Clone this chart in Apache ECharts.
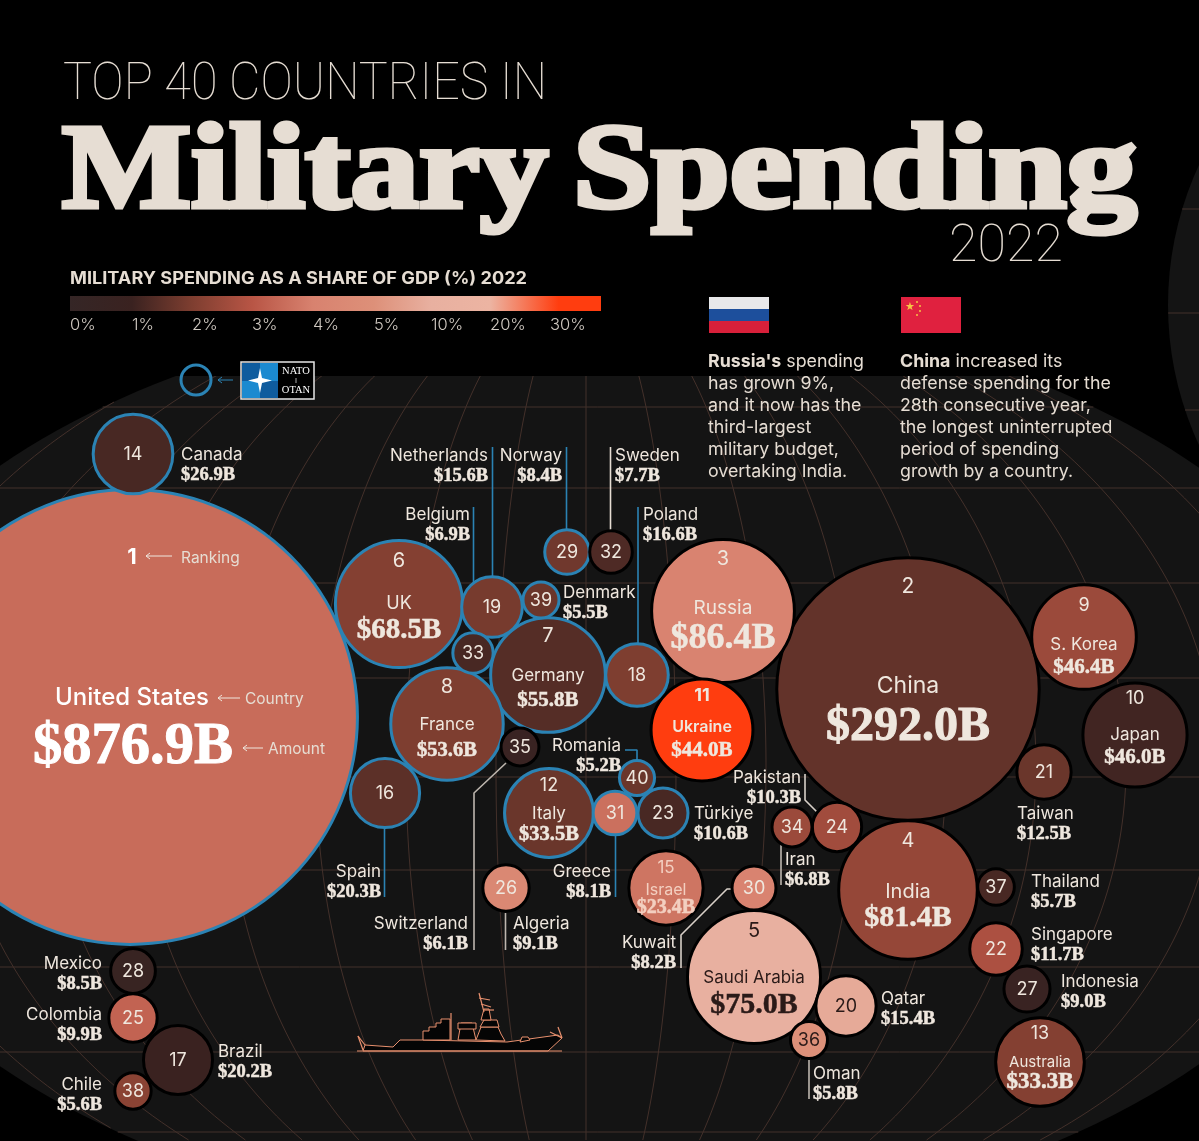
<!DOCTYPE html>
<html><head><meta charset="utf-8">
<style>html,body{margin:0;padding:0;background:#000}#c{width:1199px;height:1141px}</style>
<script src="https://cdn.jsdelivr.net/npm/echarts@6/dist/echarts.min.js"></script>
</head><body><div id="c"></div>
<script>
// ---------- data (rank = position + 1) ----------
const countries = ['United States','China','Russia','India','Saudi Arabia','UK','Germany','France','S. Korea','Japan','Ukraine','Italy','Australia','Canada','Israel','Spain','Brazil','Poland','Netherlands','Qatar','Taiwan','Singapore','Türkiye','Pakistan','Colombia','Algeria','Indonesia','Mexico','Norway','Kuwait','Greece','Sweden','Belgium','Iran','Switzerland','Oman','Thailand','Chile','Denmark','Romania'];
const spendB = [876.9,292.0,86.4,81.4,75.0,68.5,55.8,53.6,46.4,46.0,44.0,33.5,33.3,26.9,23.4,20.3,20.2,16.6,15.6,15.4,12.5,11.7,10.6,10.3,9.9,9.1,9.0,8.5,8.4,8.2,8.1,7.7,6.9,6.8,6.1,5.8,5.7,5.6,5.5,5.2];
const gdpShare = [3.5,1.6,4.1,2.4,10,2.1,1.4,2,2.5,1.1,33.5,1.7,2.1,1.2,3.7,1.5,1,2,1.9,9,1.7,2.8,1.2,2.6,3.3,4.4,0.7,0.6,1.8,4.1,3.6,1.3,1.2,2.5,0.7,5,1.2,2.2,1.7,1.7];
const natoMembers = ['United States','UK','Germany','France','Italy','Canada','Spain','Poland','Netherlands','Türkiye','Norway','Greece','Belgium','Denmark','Romania'];
const scaleTicks = [0,1,2,3,4,5,10,20,30];
const scaleLabels = ['0%','1%','2%','3%','4%','5%','10%','20%','30%'];
// ---------- layout & style ----------
const bubbleX = [130,908,723,908,754,399,548,447,1084,1135,702,549,1040,133,666,385,178,637,492,846,1044,996,663,837,133,506,1027,133,567,754,615,611,473,792,520,809,996,133,541,637];
const bubbleY = [717,689,611,890,977,604,675,724,637,735,730,813,1062,454,888,793,1060,675,607,1006,772,949,813,827,1018,888,989,971,552,888,813,552,653,827,747,1040,887,1091,600,778];
const radiusPerSqrtB = 7.68;
const scaleColors = ['#352626','#3a2220','#7e3e30','#b85545','#d8826f','#dd9079','#e8b0a0','#ecb4a2','#ff3d0f'];
const scaleLabelX = [70,132,192,252,313,374,431,490,550];
const cream='#efe7de', blue='#2b83b4', sans='Inter, "Noto Sans", sans-serif', serif='"Liberation Serif", serif';
// inside: name -> [rankDy,nameDy,amtDy,rankSize,nameSize,amtSize]
const insideLabels = {
 'China':[-103,-4,38,21,23,48],'Russia':[-53,-4,27,20,19,36],'India':[-50,1,27,20,20,30],'Saudi Arabia':[-47,0,27,20,17,30],
 'UK':[-44,-1,26,20,18,29],'Germany':[-40,0,25,20,17,21],'France':[-38,0,26,20,17,20.5],'S. Korea':[-32,7,30,18,17,21],
 'Japan':[-37,-1,22,18,17,21],'Ukraine':[-35,-4,20,18,16,21],'Italy':[-28,0,21,18,17,20.5],'Australia':[-29,-1,19,18,15,23],'Israel':[-21,1,19,17,16,20]};
// outside: name -> [x,y,align]
const outsideLabels = {
 'Canada':[181,454,'left'],'Netherlands':[488,455,'right'],'Norway':[562,455,'right'],'Sweden':[615,455,'left'],'Belgium':[470,514,'right'],'Poland':[643,514,'left'],
 'Denmark':[563,592,'left'],'Spain':[381,871,'right'],'Switzerland':[468,923,'right'],'Algeria':[513,923,'left'],'Greece':[611,871,'right'],'Romania':[621,745,'right'],
 'Türkiye':[694,813,'left'],'Kuwait':[676,942,'right'],'Pakistan':[801,777,'right'],'Iran':[785,859,'left'],'Oman':[813,1073,'left'],'Taiwan':[1017,813,'left'],
 'Thailand':[1031,881,'left'],'Singapore':[1031,934,'left'],'Indonesia':[1061,981,'left'],'Qatar':[881,998,'left'],'Mexico':[102,963,'right'],'Colombia':[102,1014,'right'],
 'Chile':[102,1084,'right'],'Brazil':[218,1051,'left']};
const darkText = ['Saudi Arabia','Qatar','Oman'];
const leaders = [
 [[492.5,447],[492.5,580],blue],[[566.5,447],[566.5,532],blue],[[610.5,447],[610.5,533],'#e6ddd3'],[[473.5,507],[473.5,635],blue],[[638,507],[638,646],blue],
 [[384.5,826],[384.5,897],blue],[[506,763],[474,793],[474,950],'#bdb6ae'],[[505.5,913],[505.5,950],'#bdb6ae'],[[615.5,833],[615.5,897],blue],[[625,750],[637,750],[637,762],blue],
 [[733,889],[727,889],[681,935],[681,968],'#d8d0c8'],[[805,774],[805,800],[817,812],'#d8d0c8'],[[781,845],[781,885],'#bdb6ae'],[[809,1060],[809,1099],'#bdb6ae']];

function rgb(h){return [1,3,5].map(i=>parseInt(h.substr(i,2),16));}
function shareColor(s){
  let i=0; while(i<scaleTicks.length-2 && s>scaleTicks[i+1]) i++;
  const t=Math.min(1,(s-scaleTicks[i])/(scaleTicks[i+1]-scaleTicks[i]));
  const a=rgb(scaleColors[i]),b=rgb(scaleColors[i+1]);
  return 'rgb('+a.map((v,k)=>Math.round(v+(b[k]-v)*t)).join(',')+')';
}
const money=v=>'$'+v.toFixed(1)+'B';
function labelPt(x,y,text,size,opt){
  opt=opt||{};
  return {value:[x,y+1],label:{formatter:()=>text,fontSize:size,color:opt.color||cream,fontFamily:opt.serif?serif:sans,
    fontWeight:opt.serif?'bold':(opt.weight||'normal'),align:opt.align||'center',verticalAlign:'middle',
    textBorderColor:opt.serif?(opt.color||cream):'transparent',textBorderWidth:opt.serif?(size>40?1:0.5):0}};
}
const labelData=[];
countries.forEach((n,i)=>{
  const x=bubbleX[i],y=bubbleY[i],rank=String(i+1),col=darkText.includes(n)?'#2a1a18':cream;
  if(n==='United States'){
    labelData.push(labelPt(x+2,556,rank,22,{weight:'bold',color:'#fff'}));
    labelData.push(labelPt(x+2,697,n,24,{weight:'500',color:'#fff'}));
    labelData.push(labelPt(x+3,747,money(spendB[i]),58.5,{serif:true,color:'#fff'}));
    return;
  }
  const ins=insideLabels[n];
  if(ins){
    const c=n==='Israel'?'#f3cfc0':col;
    labelData.push(labelPt(x,y+ins[0],rank,ins[3],{color:c,weight:n==='Ukraine'?'bold':'normal'}));
    labelData.push(labelPt(x,y+ins[1],n,ins[4],{color:c,weight:n==='Ukraine'?'600':'normal'}));
    labelData.push(labelPt(x,y+ins[2],money(spendB[i]),ins[5],{serif:true,color:c}));
  } else {
    labelData.push(labelPt(x,y,rank,18,{color:col}));
    const o=outsideLabels[n];
    labelData.push(labelPt(o[0],o[1],n,17,{align:o[2]}));
    labelData.push(labelPt(o[0],o[1]+20,money(spendB[i]),18.5,{serif:true,align:o[2]}));
  }
});
// legend-style annotations
[[181,557,'Ranking'],[245,698,'Country'],[268,748,'Amount']].forEach(a=>labelData.push(labelPt(a[0],a[1],a[2],15.5,{align:'left',color:'#e6ddd3'})));

// ---------- background graphics ----------
const g=[];
const ecx=598,ecy=766,ea=787,eb=462, lineCol='#43302a';
g.push({type:'ellipse',shape:{cx:ecx,cy:ecy,rx:ea,ry:eb},style:{fill:'#141414'},z:1,silent:true});
const inEll=(x,y)=>((x-ecx)/ea)**2+((y-ecy)/eb)**2<=1;
[407,488,583,678,777,870,967,1052,1132].forEach(y=>{
  const dx=ea*Math.sqrt(Math.max(0,1-((y-ecy)/eb)**2));
  g.push({type:'line',shape:{x1:ecx-dx,y1:y,x2:ecx+dx,y2:y},style:{stroke:lineCol,lineWidth:1},z:2,silent:true});
});
for(let m=-9;m<=9;m++){
  const pts=[];
  for(let y=300;y<=1141;y+=6){
    const dy=(y-766)/482; if(Math.abs(dy)>=1) continue;
    const x=586+m*90*Math.sqrt(1-dy*dy);
    if(inEll(x,y)) pts.push([x,y]);
  }
  if(pts.length>1) g.push({type:'polyline',shape:{points:pts},style:{stroke:lineCol,lineWidth:1,fill:'none'},z:2,silent:true});
}
g.push({type:'rect',shape:{x:0,y:0,width:1199,height:376},style:{fill:'#000'},z:3,silent:true});
g.push({type:'circle',shape:{cx:1500,cy:305,r:332},style:{fill:'#141414'},z:4,silent:true});
[209,313,410].forEach(y=>g.push({type:'line',shape:{x1:1500-Math.sqrt(332*332-(y-305)*(y-305)),y1:y,x2:1199,y2:y},style:{stroke:lineCol,lineWidth:1},z:5,silent:true}));
const mctx=document.createElement('canvas').getContext('2d');
function fit(font,text,width){mctx.font=font;return width/mctx.measureText(text).width;}
const T=(x,y,text,font,fill,extra)=>{extra=extra||{};const z=extra.z||6,sx=extra.sx||1;const st=Object.assign({text:text,font:font,fill:fill,verticalAlign:'middle',align:'left'},extra);delete st.z;delete st.sx;
  g.push({type:'text',x:x,y:y,z:z,silent:true,style:st,scaleX:sx});};
// titles
const titleCol='#e6ddd3';
const f1='100 52px Roboto', fT='bold 120px "Liberation Serif"', fL='bold 17px Inter';
T(63,86,'TOP 40 COUNTRIES IN',f1,titleCol,{sx:fit(f1,'TOP 40 COUNTRIES IN',484)});
T(62,176,'Military',fT,titleCol,{stroke:titleCol,lineWidth:5,sx:fit(fT,'Military',486)});
T(573,176,'Spending',fT,titleCol,{stroke:titleCol,lineWidth:5,sx:fit(fT,'Spending',564)});
T(949,248,'2022','100 52px Roboto',titleCol);
// colour scale
T(70,279,'MILITARY SPENDING AS A SHARE OF GDP (%) 2022',fL,titleCol,{sx:fit(fL,'MILITARY SPENDING AS A SHARE OF GDP (%) 2022',457)});
g.push({type:'rect',z:6,silent:true,shape:{x:70,y:296,width:531,height:15},style:{fill:new echarts.graphic.LinearGradient(0,0,1,0,
  scaleColors.map((c,i)=>({offset:i===8?0.92:(scaleLabelX[i]-70)/531,color:c})).concat([{offset:1,color:'#ff3d0f'}]))}});
scaleLabels.forEach((l,i)=>T(scaleLabelX[i],325,l,'300 16.5px Inter','#cfc8c0'));
// NATO key
g.push({type:'circle',z:6,silent:true,shape:{cx:196,cy:380,r:15},style:{fill:'none',stroke:blue,lineWidth:3}});
g.push({type:'line',z:6,silent:true,shape:{x1:218,y1:380,x2:233,y2:380},style:{stroke:blue,lineWidth:1}});
g.push({type:'polyline',z:6,silent:true,shape:{points:[[222,377],[218,380],[222,383]]},style:{stroke:blue,lineWidth:1,fill:'none'}});
g.push({type:'rect',z:7,silent:true,shape:{x:241,y:362,width:73,height:37},style:{fill:'#000',stroke:'#e6e6e6',lineWidth:1.5}});
g.push({type:'rect',z:7,silent:true,shape:{x:242,y:363,width:36,height:35},style:{fill:'#0f5c9e'}});
g.push({type:'rect',z:7,silent:true,shape:{x:260,y:363,width:18,height:18},style:{fill:'#1b8ad0'}});
g.push({type:'rect',z:7,silent:true,shape:{x:242,y:381,width:18,height:17},style:{fill:'#1b8ad0'}});
g.push({type:'polygon',z:8,silent:true,shape:{points:[[260,368],[262,378],[272,380.5],[262,383],[260,393],[258,383],[248,380.5],[258,378]]},style:{fill:'#fff'}});
T(296,371,'NATO','10.5px "Liberation Serif"','#fff',{align:'center',z:8});
T(296,390,'OTAN','10.5px "Liberation Serif"','#fff',{align:'center',z:8});
g.push({type:'line',z:8,silent:true,shape:{x1:296,y1:378,x2:296,y2:383},style:{stroke:'#aaa',lineWidth:1}});
// annotation arrows
[[146,172,556],[218,240,698],[243,263,748]].forEach(a=>{
  g.push({type:'line',z:30,silent:true,shape:{x1:a[0],y1:a[2],x2:a[1],y2:a[2]},style:{stroke:cream,lineWidth:1}});
  g.push({type:'polyline',z:30,silent:true,shape:{points:[[a[0]+4,a[2]-3],[a[0],a[2]],[a[0]+4,a[2]+3]]},style:{stroke:cream,lineWidth:1,fill:'none'}});
});
// flags
[[297,'#e8e8ea'],[309,'#1d4f9c'],[321,'#d7203a']].forEach(f=>g.push({type:'rect',z:6,silent:true,shape:{x:709,y:f[0],width:60,height:12},style:{fill:f[1]}}));
g.push({type:'rect',z:6,silent:true,shape:{x:901,y:297,width:60,height:36},style:{fill:'#e0213f'}});
T(905,307,'★','11px "DejaVu Sans"','#f6c445',{z:7});
[[917,302],[920,306],[920,311],[917,315]].forEach(p=>g.push({type:'circle',z:7,silent:true,shape:{cx:p[0],cy:p[1],r:1},style:{fill:'#f6c445'}}));
// notes
const noteRich={b:{font:'bold 17.8px Inter',fill:titleCol,lineHeight:22},n:{font:'400 17.8px Inter',fill:titleCol,lineHeight:22}};
function note(x,lead,first,rest){
  g.push({type:'text',x:x,y:351,z:6,silent:true,style:{text:'{b|'+lead+'}{n|'+first+'}\n'+rest.map(r=>'{n|'+r+'}').join('\n'),rich:noteRich,align:'left',verticalAlign:'top',fill:titleCol,font:'17.8px Inter'}});
}
note(708,"Russia's",' spending',['has grown 9%,','and it now has the','third-largest','military budget,','overtaking India.']);
note(900,'China',' increased its',['defense spending for the','28th consecutive year,','the longest uninterrupted','period of spending','growth by a country.']);
// warship
const shipCol='#e8906e';
const ship=[
 [[365,1045],[393,1047],[400,1040],[423,1040],[507,1042],[558,1035],[562,1038],[548,1051],[363,1051]],
 [[423,1040],[423,1031],[429,1031],[429,1027],[436,1027],[436,1023],[441,1023],[441,1019],[450,1019],[450,1040]],
 [[458,1040],[461,1023],[472,1023],[476,1040]],
 [[476,1040],[481,1027],[498,1027],[501,1034],[505,1041]],
 [[480,1027],[484,1020],[497,1020],[499,1027]],
 [[458,1029],[476,1029],[476,1023],[458,1023]],
 [[481,1020],[484,1009],[489,1009],[491,1020]],
 [[520,1042],[522,1037],[528,1037],[530,1040]]];
ship.forEach(p=>g.push({type:'polygon',z:6,silent:true,shape:{points:p},style:{fill:'#050505',stroke:shipCol,lineWidth:1}}));
[[[357,1051],[562,1051]],[[358,1036],[363,1050]],[[550,1032],[562,1038]],[[558,1027],[562,1038]],[[451,1013],[451,1040]],[[479,993],[484,1012]],[[479,998],[490,1000]],[[481,1004],[491,1007]],[[484,1010],[494,1010]],[[365,1045],[358,1036]]]
 .forEach(l=>g.push({type:'polyline',z:6,silent:true,shape:{points:l},style:{stroke:shipCol,lineWidth:1.2,fill:'none'}}));

// ---------- chart ----------
const chart=echarts.init(document.getElementById('c'),null,{renderer:'canvas'});
const series=[];
leaders.forEach(l=>{
  const c=l[l.length-1];
  series.push({type:'line',z:10,silent:true,symbol:'none',clip:false,animation:false,lineStyle:{color:c,width:1.6},data:l.slice(0,-1)});
});
series.push({type:'scatter',z:11,silent:true,animation:false,
  symbolSize:(v)=>2*radiusPerSqrtB*Math.sqrt(v[2]),
  data:countries.map((n,i)=>({value:[bubbleX[i],bubbleY[i],spendB[i]],name:n,
    itemStyle:{color:shareColor(gdpShare[i]),borderColor:natoMembers.includes(n)?blue:'#000',borderWidth:3,opacity:1}}))});
series.push({type:'scatter',z:12,silent:true,animation:false,symbolSize:1,itemStyle:{color:'transparent',opacity:1},
  label:{show:true,position:'inside'},labelLayout:{hideOverlap:false},data:labelData});
chart.setOption({
  animation:false,backgroundColor:'#000',
  grid:{left:0,right:0,top:0,bottom:0},
  xAxis:{type:'value',min:0,max:1199,show:false},
  yAxis:{type:'value',min:0,max:1141,inverse:true,show:false},
  graphic:{elements:g},
  series:series
});
</script></body></html>
